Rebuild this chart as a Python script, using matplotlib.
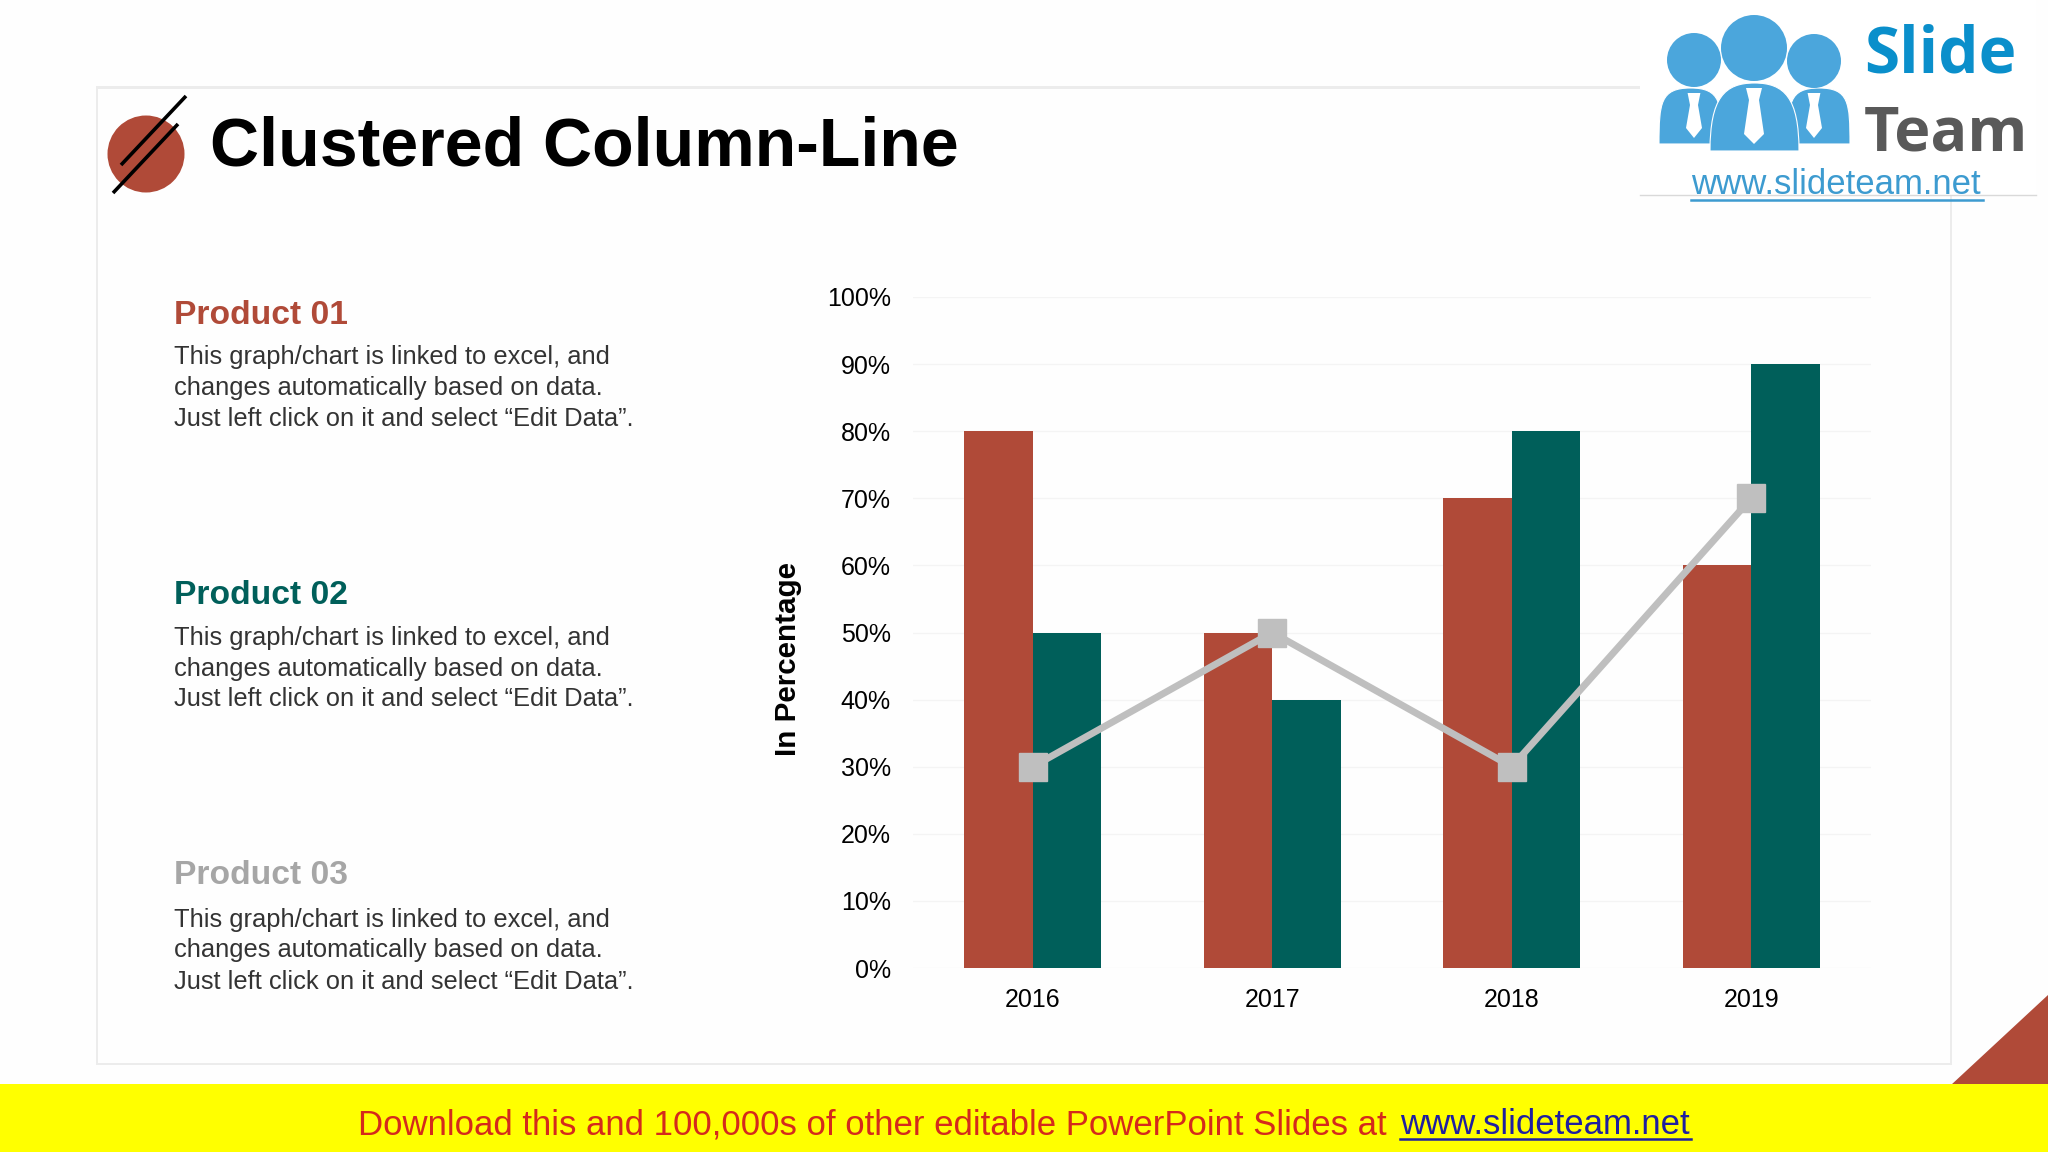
from matplotlib import pyplot as plt
from matplotlib.patches import Circle, Polygon, Rectangle, PathPatch
from matplotlib.path import Path
import numpy as np

plt.rcParams['font.family'] = ['Liberation Sans', 'DejaVu Sans']

RED = '#b04a38'
TEAL = '#005f5a'
GREY = '#bfbfbf'

years = ['2016', '2017', '2018', '2019']
product_01 = [80, 50, 70, 60]
product_02 = [50, 40, 80, 90]
product_03 = [30, 50, 30, 70]
y_ticks = [0, 10, 20, 30, 40, 50, 60, 70, 80, 90, 100]

product_names = ['Product 01', 'Product 02', 'Product 03']
product_colours = [RED, TEAL, '#a6a6a6']
body_lines = ['This graph/chart is linked to excel, and',
              'changes automatically based on data.',
              'Just left click on it and select “Edit Data”.']

W, H = 2048, 1152

fig = plt.figure(figsize=(W / 100, H / 100), dpi=100, facecolor='#fefefe')

# overlay in pixel coordinates for the slide furniture
bg = fig.add_axes([0, 0, 1, 1])
bg.set_xlim(0, W)
bg.set_ylim(H, 0)
bg.axis('off')

# card with soft shadow
bg.add_patch(Rectangle((96, 86), 1856, 979, fc='#ececec', ec='none'))
bg.add_patch(Rectangle((98, 89), 1852, 974, fc='#fefefe', ec='none'))

# footer band and corner
bg.add_patch(Polygon([(1951, 1085), (W, 995), (W, 1085)], fc=RED, ec='none'))
bg.add_patch(Rectangle((0, 1084), W, 68, fc='#ffff00', ec='none'))
bg.text(358, 1125, 'Download this and 100,000s of other editable PowerPoint Slides at ',
        fontsize=25, color='#d42a1c', va='center', ha='left')
bg.text(1400, 1125, 'www.slideteam.net', fontsize=25, color='#1f1fa0', va='center', ha='left')
bg.plot([1400, 1691], [1139, 1139], color='#1f1fa0', lw=1.8)

# title and icon
bg.add_patch(Circle((146, 154), 38.5, fc=RED, ec='none'))
bg.plot([186, 121], [96, 165], color='black', lw=2.6, solid_capstyle='butt')
bg.plot([178, 113], [124, 193], color='black', lw=2.6, solid_capstyle='butt')
bg.text(210, 147, 'Clustered Column-Line', fontsize=49, fontweight='bold', color='black',
        va='center', ha='left')

# left column text
title_y = [316, 596, 876]
body_y = [[357, 388, 419], [638, 669, 699], [920, 950, 982]]
for name, colour, ty, by in zip(product_names, product_colours, title_y, body_y):
    bg.text(174, ty, name, fontsize=24.2, fontweight='bold', color=colour, va='center', ha='left')
    for line, y in zip(body_lines, by):
        bg.text(174, y, line, fontsize=18.35, color='#333333', va='center', ha='left')

# logo
bg.add_patch(Rectangle((1640, 0), 396, 195, fc='white', ec='none'))
bg.plot([1640, 2036], [195, 195], color='#d9d9d9', lw=1)
LOGO_BLUE = '#4ba6dc'


def shoulders(x0, x1, top, bottom):
    mid = (x0 + x1) / 2
    verts = [(x0, bottom), (x0, top + 15), (mid - 30, top), (mid, top),
             (mid + 30, top), (x1, top + 15), (x1, bottom), (x0, bottom)]
    codes = [Path.MOVETO, Path.CURVE4, Path.CURVE4, Path.CURVE4,
             Path.CURVE4, Path.CURVE4, Path.CURVE4, Path.CLOSEPOLY]
    return PathPatch(Path(verts, codes), fc=LOGO_BLUE, ec='white', lw=0.8)


def tie(cx, top, bottom, w):
    pts = [(cx - w * 0.8, top), (cx + w * 0.8, top), (cx + w * 0.5, top + 12), (cx + w, bottom - 10),
           (cx, bottom), (cx - w, bottom - 10), (cx - w * 0.5, top + 12)]
    return Polygon(pts, fc='white', ec='none')


bg.add_patch(shoulders(1659, 1722, 88, 144))
bg.add_patch(shoulders(1788, 1850, 88, 144))
bg.add_patch(shoulders(1710, 1799, 83, 151))
bg.add_patch(Circle((1694, 60), 27, fc=LOGO_BLUE, ec='none'))
bg.add_patch(Circle((1814, 61), 27, fc=LOGO_BLUE, ec='none'))
bg.add_patch(Circle((1754, 48), 33, fc=LOGO_BLUE, ec='none'))
bg.add_patch(tie(1694, 93, 138, 8))
bg.add_patch(tie(1754, 88, 144, 10))
bg.add_patch(tie(1814, 93, 138, 8))
bg.text(1864, 56, 'Slide', fontsize=46, fontweight='bold', family='Open Sans', color='#0a8fcb',
        va='center', ha='left')
bg.text(1864, 135, 'Team', fontsize=44, fontweight='bold', family='Open Sans', color='#595959',
        va='center', ha='left')
bg.text(1691, 185, 'www.slideteam.net', fontsize=25, color='#3d9bd0', va='center', ha='left')
bg.plot([1691, 1983], [200, 200], color='#3d9bd0', lw=1.8)

# chart
ax = fig.add_axes([913 / W, 1 - 968 / H, 958 / W, 671 / H])
ax.patch.set_alpha(0)
x = np.arange(len(years))
bar_w = 0.286
ax.bar(x - bar_w / 2, product_01, bar_w, color=RED, zorder=2)
ax.bar(x + bar_w / 2, product_02, bar_w, color=TEAL, zorder=2)
ax.plot(x, product_03, color=GREY, lw=5, marker='s', markersize=20.5, zorder=3)

ax.set_xlim(-0.5, 3.5)
ax.set_ylim(0, 100)
ax.set_xticks(x)
ax.set_xticklabels(years)
ax.set_yticks(y_ticks)
ax.set_yticklabels(['{}%'.format(v) for v in y_ticks])
ax.tick_params(axis='both', length=0, labelsize=18, labelcolor='black')
ax.tick_params(axis='y', pad=16)
ax.tick_params(axis='x', pad=14.5)
ax.grid(axis='y', color='#f4f4f4', lw=1, zorder=0)
for spine in ax.spines.values():
    spine.set_visible(False)
ax.set_ylabel('In Percentage', fontsize=21.3, fontweight='bold', color='black')
ax.yaxis.set_label_coords(-0.116, 0.46)

fig.savefig('out.png', dpi=100, facecolor=fig.get_facecolor())
